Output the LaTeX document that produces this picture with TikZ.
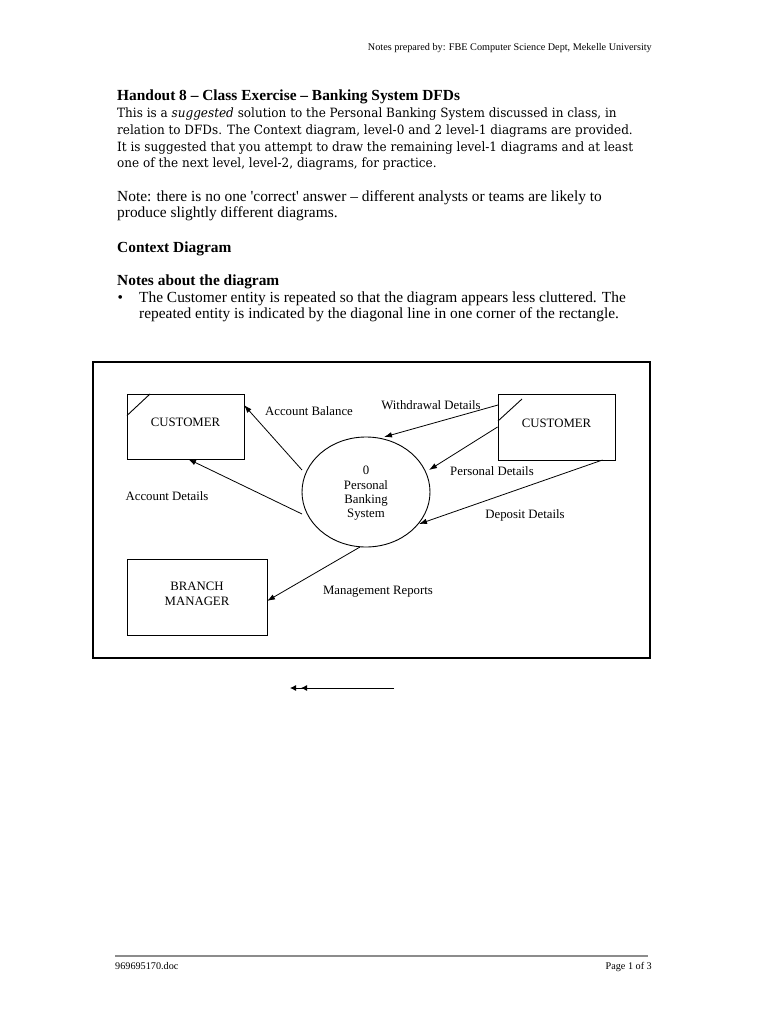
\documentclass[tikz,border=0pt]{standalone}
\usepackage{fontspec}
\setmainfont{Liberation Serif}
\newfontfamily\djv[FakeStretch=0.94]{DejaVu Serif}
\newfontfamily\lsplain{Liberation Serif}
\newcommand\squote{{\lsplain '}}
\usetikzlibrary{arrows.meta,calc,shapes.geometric}
\tikzset{
  bodyA/.style={inner sep=0pt,anchor=base west,font=\djv\fontsize{12.8pt}{15pt}\selectfont},
  bodyB/.style={inner sep=0pt,anchor=base west,font=\fontsize{15.4pt}{17pt}\selectfont},
  headB/.style={inner sep=0pt,anchor=base west,font=\bfseries\fontsize{15.4pt}{17pt}\selectfont},
  small/.style={inner sep=0pt,font=\fontsize{10.2pt}{12pt}\selectfont},
  lbl/.style={inner sep=0pt,align=center,font=\fontsize{12.8pt}{14.4pt}\selectfont},
  entity/.style={draw,line width=0.9pt,inner sep=0pt},
  flow/.style={-{Latex[length=8pt,width=5.5pt]},line width=0.8pt},
}
\begin{document}
\begin{tikzpicture}[x=1pt,y=-1pt]
\useasboundingbox (0,0) rectangle (768,1024);
\fill[white] (0,0) rectangle (768,1024);

% header
\node[small,anchor=base east] (hdr) at (652,51) {Notes prepared by: FBE Computer Science Dept, Mekelle University};

% title and body
\node[headB] (title) at (117,101) {Handout 8 -- Class Exercise -- Banking System DFDs};
\node[bodyA] (p1) at (117,118) {This is a \textit{suggested} solution to the Personal Banking System discussed in class, in};
\node[bodyA] (p2) at (117,135) {relation to DFDs. The Context diagram, level-0 and 2 level-1 diagrams are provided.};
\node[bodyA] (p3) at (117,152) {It is suggested that you attempt to draw the remaining level-1 diagrams and at least};
\node[bodyA] (p4) at (117,168) {one of the next level, level-2, diagrams, for practice.};
\node[bodyB] (n1) at (117,202) {Note: there is no one \squote correct\squote{} answer -- different analysts or teams are likely to};
\node[bodyB] (n2) at (117,218) {produce slightly different diagrams.};
\node[headB] (ctx) at (117,252) {Context Diagram};
\node[headB] (nad) at (117,285) {Notes about the diagram};
\node[bodyB] (bul) at (117.5,302) {\textbullet};
\node[bodyB] (b1) at (139,302) {The Customer entity is repeated so that the diagram appears less cluttered. The};
\node[bodyB] (b2) at (139,318) {repeated entity is indicated by the diagonal line in one corner of the rectangle.};

% frame
\node[draw,line width=1.8pt,minimum width=557pt,minimum height=296pt,inner sep=0pt] (frame) at (371.5,510) {};

% entities
\node[entity,minimum width=117pt,minimum height=65pt] (custL) at (185.5,426.5) {};
\node[entity,minimum width=117pt,minimum height=66pt] (custR) at (556.5,427) {};
\node[entity,minimum width=140pt,minimum height=76pt] (branch) at (197,597) {};
\node[draw,ellipse,line width=0.9pt,minimum width=128pt,minimum height=110pt,inner sep=0pt] (sys) at (366,492) {};

\draw[line width=0.9pt] ($(custL.center)+(-58.5,-11)$) -- ($(custL.center)+(-35.5,-32.5)$);
\draw[line width=0.9pt] ($(custR.center)+(-58.5,-6)$) -- ($(custR.center)+(-34.5,-28)$);

\node[lbl] (tcl) at ($(custL.center)+(0,-4.5)$) {CUSTOMER};
\node[lbl] (tcr) at ($(custR.center)+(0,-4)$) {CUSTOMER};
\node[lbl] (tbr) at ($(branch.center)+(0,-3)$) {BRANCH\\MANAGER};
\node[lbl] (tsys) at ($(sys.center)+(0,1.5)$) {0\\Personal\\Banking\\System};

% flows
\draw[flow] ($(sys.center)+(-64,-22)$) -- ($(custL.center)+(58.5,-21.5)$);
\draw[flow] ($(sys.center)+(-64,22)$) -- ($(custL.center)+(2.5,32.5)$);
\draw[flow] ($(custR.center)+(-58.5,-22)$) -- ($(sys.center)+(18,-55)$);
\draw[flow] (custR.west) -- ($(sys.center)+(63,-22)$);
\draw[flow] ($(custR.center)+(46,33)$) -- ($(sys.center)+(53,32)$);
\draw[flow] ($(sys.center)+(-6,55)$) -- ($(branch.center)+(70,4)$);

% flow labels
\node[lbl] (lab) at (309,411) {Account Balance};
\node[lbl] (lad) at (167,496) {Account Details};
\node[lbl] (lwd) at (431,405) {Withdrawal Details};
\node[lbl] (lpd) at (492,471) {Personal Details};
\node[lbl] (ldd) at (525,515) {Deposit Details};
\node[lbl] (lmr) at (378,592) {Management Reports};

% stray arrow below
\coordinate (ba) at (394,688);
\coordinate (bb) at (290,688);
\draw[line width=0.8pt,-{Latex[length=6pt,width=6pt,sep=5pt]Latex[length=6pt,width=6pt]}] (ba) -- (bb);

% footer
\coordinate (fl) at (115,956);
\coordinate (fr) at (648,956);
\draw[line width=1.3pt,black!45] (fl) -- (fr);
\node[small,anchor=base west] (fdoc) at (115,969) {969695170.doc};
\node[small,anchor=base east] (fpg) at (652,969) {Page 1 of 3};
\end{tikzpicture}
\end{document}
